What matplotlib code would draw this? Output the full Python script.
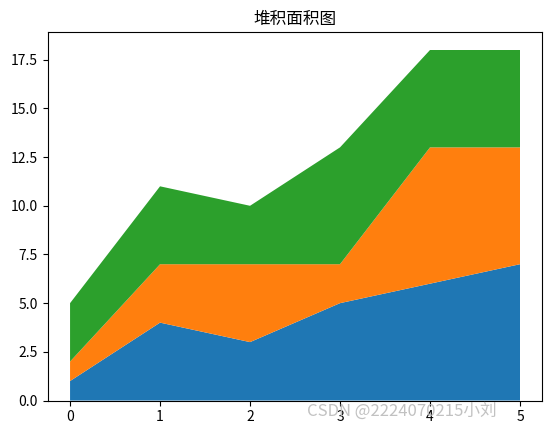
import matplotlib
matplotlib.use("Agg")
import matplotlib.pyplot as plt

plt.rcParams['font.family'] = ['Noto Sans CJK SC', 'DejaVu Sans']
plt.rcParams['axes.unicode_minus'] = False

x = [0, 1, 2, 3, 4, 5]
y1 = [1, 4, 3, 5, 6, 7]
y2 = [1, 3, 4, 2, 7, 6]
y3 = [3, 4, 3, 6, 5, 5]

fig, ax = plt.subplots(figsize=(5.53, 4.33), dpi=100)
fig.subplots_adjust(left=0.086, right=0.981, top=0.925, bottom=0.075)
ax.stackplot(x, y1, y2, y3)
ax.set_title('堆积面积图')
fig.text(0.555, 0.04, 'CSDN @2224070215小刘', color='#bbbbbb', fontsize=12, alpha=0.9)
fig.savefig('out.png')
